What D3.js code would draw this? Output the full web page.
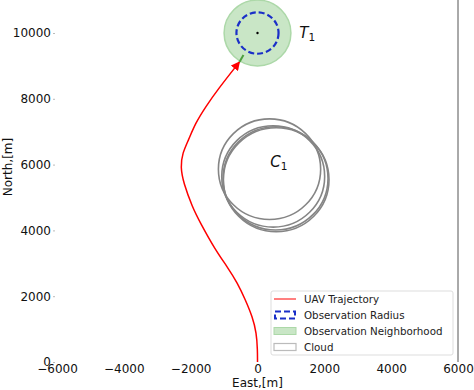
<!DOCTYPE html>
<html>
<head>
<meta charset="utf-8">
<script src="https://cdn.jsdelivr.net/npm/d3@7"></script>
<style>
  body { margin: 0; background: #fff; }
  text { font-family: "DejaVu Sans", sans-serif; }
</style>
</head>
<body>
<svg width="474" height="390"></svg>
<script>
// trajectory [east, north] in metres
const trajectory = [
  [0, 0], [0, 365], [-30, 881], [-150, 1368], [-360, 1884], [-600, 2401],
  [-900, 2888], [-1260, 3404], [-1710, 4225], [-1950, 4711], [-2215, 5441],
  [-2305, 5927], [-2245, 6353], [-2065, 6748], [-1855, 7264], [-1555, 7751],
  [-1200, 8267], [-540, 9119]
];
const finalApproach = [[-540, 9119], [-420, 9331]];

const target = { east: 0, north: 10000, neighborhood: 1000, radius: 630 };

// cloud outline snapshots [east, north, radius]
const clouds = [
  [360, 5860, 1530],
  [470, 5640, 1540],
  [540, 5580, 1570],
  [560, 5540, 1580]
];

const xTicks = [-6000, -4000, -2000, 0, 2000, 4000, 6000];
const yTicks = [0, 2000, 4000, 6000, 8000, 10000];

const legendItems = ['UAV Trajectory', 'Observation Radius', 'Observation Neighborhood', 'Cloud'];

const svg = d3.select('svg');

const xScale = d3.scaleLinear().domain([-6000, 6000]).range([57, 458]);
const yScale = d3.scaleLinear().domain([0, 10000]).range([362, 33]);
const kx = (xScale(1000) - xScale(0)) / 1000;
const ky = (yScale(0) - yScale(1000)) / 1000;

// axes
const xAxis = d3.axisBottom(xScale).tickValues(xTicks).tickSize(0).tickPadding(2)
    .tickFormat(d => d < 0 ? '\u2212' + Math.abs(d) : String(d));
svg.append('g')
    .attr('transform', 'translate(0, 362)')
    .call(xAxis)
    .call(g => g.select('.domain').remove())
    .selectAll('text')
    .attr('font-size', 12)
    .attr('fill', '#111')
    .attr('font-family', 'DejaVu Sans');

const yAxis = d3.axisLeft(yScale).tickValues(yTicks).tickSize(2).tickPadding(2)
    .tickFormat(d => String(d));
svg.append('g')
    .attr('transform', 'translate(55, 0)')
    .call(yAxis)
    .call(g => g.select('.domain').remove())
    .call(g => g.selectAll('line').attr('stroke', '#bbb'))
    .selectAll('text')
    .attr('font-size', 12)
    .attr('fill', '#111')
    .attr('font-family', 'DejaVu Sans');

// right spine
svg.append('line')
    .attr('x1', xScale(6000)).attr('x2', xScale(6000))
    .attr('y1', 0).attr('y2', yScale(0))
    .attr('stroke', '#555').attr('stroke-width', 1);

svg.append('text')
    .attr('x', xScale(0)).attr('y', 387)
    .attr('text-anchor', 'middle')
    .attr('font-size', 12)
    .attr('fill', '#111')
    .text('East,[m]');

svg.append('text')
    .attr('transform', 'translate(12, 167) rotate(-90)')
    .attr('text-anchor', 'middle')
    .attr('font-size', 12)
    .attr('fill', '#111')
    .text('North,[m]');

// clouds
svg.append('g').selectAll('ellipse')
    .data(clouds)
    .join('ellipse')
    .attr('cx', d => xScale(d[0]))
    .attr('cy', d => yScale(d[1]))
    .attr('rx', d => d[2] * kx)
    .attr('ry', d => d[2] * ky)
    .attr('fill', 'none')
    .attr('stroke', '#858585')
    .attr('stroke-width', 1.6);

// arrow head
svg.append('defs').append('marker')
    .attr('id', 'arrow')
    .attr('viewBox', '0 0 10 10')
    .attr('refX', 9).attr('refY', 5)
    .attr('markerWidth', 9).attr('markerHeight', 9)
    .attr('markerUnits', 'userSpaceOnUse')
    .attr('orient', 'auto')
    .append('path')
    .attr('d', 'M0,0 L10,5 L0,10 Z')
    .attr('fill', 'red');

const line = d3.line()
    .x(d => xScale(d[0]))
    .y(d => yScale(d[1]))
    .curve(d3.curveBasis);

svg.append('path')
    .attr('d', line(trajectory))
    .attr('fill', 'none')
    .attr('stroke', 'red')
    .attr('stroke-width', 1.5)
    .attr('marker-end', 'url(#arrow)');

// target neighborhood
svg.append('ellipse')
    .attr('cx', xScale(target.east)).attr('cy', yScale(target.north))
    .attr('rx', target.neighborhood * kx).attr('ry', target.neighborhood * ky)
    .attr('fill', '#c9e6c6')
    .attr('stroke', '#acd8a8')
    .attr('stroke-width', 1.5);

svg.append('path')
    .attr('d', d3.line().x(d => xScale(d[0])).y(d => yScale(d[1]))(finalApproach))
    .attr('stroke', '#4c9f3c')
    .attr('stroke-width', 2);

svg.append('ellipse')
    .attr('cx', xScale(target.east)).attr('cy', yScale(target.north))
    .attr('rx', target.radius * kx).attr('ry', target.radius * ky)
    .attr('fill', 'none')
    .attr('stroke', '#1a2fc8')
    .attr('stroke-width', 2.2)
    .attr('stroke-dasharray', '6,3');

svg.append('circle')
    .attr('cx', xScale(target.east)).attr('cy', yScale(target.north))
    .attr('r', 1.2)
    .attr('fill', '#000');

// labels
function subLabel(x, y, main, sub) {
  const t = svg.append('text')
      .attr('x', x).attr('y', y)
      .attr('font-size', 15)
      .attr('fill', '#111');
  t.append('tspan').attr('font-style', 'italic').text(main);
  t.append('tspan').attr('font-size', 10.5).attr('dy', 3).text(sub);
}
subLabel(xScale(1250), yScale(9840), 'T', '1');
subLabel(xScale(380), yScale(5920), 'C', '1');

// legend
const legend = svg.append('g').attr('transform', 'translate(271, 291)');
legend.append('rect')
    .attr('width', 182).attr('height', 64)
    .attr('rx', 2)
    .attr('fill', 'rgba(255,255,255,0.85)')
    .attr('stroke', '#ddd')
    .attr('stroke-width', 1);

const rowY = i => 8 + i * 16;
legendItems.forEach((label, i) => {
  const g = legend.append('g').attr('transform', `translate(0, ${rowY(i)})`);
  if (i === 0) {
    g.append('line').attr('x1', 3).attr('x2', 25).attr('y1', 0).attr('y2', 0)
        .attr('stroke', 'red').attr('stroke-width', 1);
  } else if (i === 1) {
    g.append('rect').attr('x', 4).attr('y', -3.5).attr('width', 20).attr('height', 7)
        .attr('fill', 'none').attr('stroke', '#1a2fc8').attr('stroke-width', 2)
        .attr('stroke-dasharray', '6,3');
  } else if (i === 2) {
    g.append('rect').attr('x', 3).attr('y', -3.5).attr('width', 22).attr('height', 7)
        .attr('fill', '#c9e6c6').attr('stroke', '#acd8a8').attr('stroke-width', 1);
  } else {
    g.append('rect').attr('x', 3).attr('y', -3.5).attr('width', 22).attr('height', 7)
        .attr('fill', 'none').attr('stroke', '#bbb').attr('stroke-width', 1.2);
  }
  g.append('text')
      .attr('x', 33).attr('y', 0)
      .attr('dy', '0.35em')
      .attr('font-size', 10.3)
      .attr('fill', '#222')
      .text(label);
});
</script>
</body>
</html>
